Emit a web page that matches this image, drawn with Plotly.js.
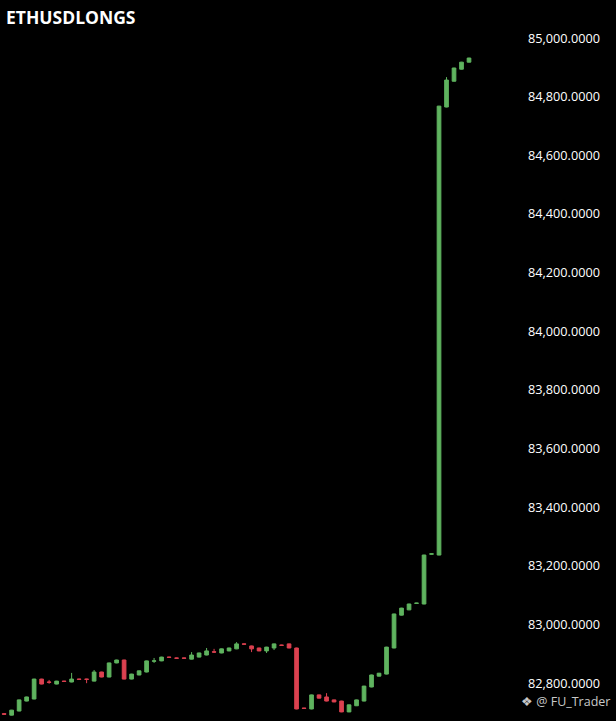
<!DOCTYPE html>
<html>
<head>
<meta charset="utf-8">
<script src="https://cdn.plot.ly/plotly-3.0.1.min.js"></script>
<style>
html,body{margin:0;padding:0;background:#000;}
#chart{width:616px;height:721px;}
</style>
</head>
<body>
<div id="chart"></div>
<script>
const barIndex = [0,1,2,3,4,5,6,7,8,9,10,11,12,13,14,15,16,17,18,19,20,21,22,23,24,25,26,27,28,29,30,31,32,33,34,35,36,37,38,39,40,41,42,43,44,45,46,47,48,49,50,51,52,53,54,55,56,57,58,59,60,61,62];
const openPrices = [82696,82691,82705,82739,82746,82814,82804,82797,82807,82804,82814,82814,82807,82838,82821,82869,82879,82814,82828,82838,82875,82876,82889,82886,82886,82882,82889,82896,82907,82903,82910,82917,82934,82927,82920,82910,82920,82930,82934,82920,82715,82712,82760,82753,82743,82739,82702,82723,82739,82787,82824,82831,82920,83032,83050,83072,83070,83240,83237,84765,84853,84894,84918];
const highPrices = [82697,82709,82744,82754,82815,82815,82811,82808,82808,82835,82815,82815,82845,82839,82870,82880,82880,82832,82843,82877,82886,82890,82890,82887,82887,82906,82904,82920,82917,82918,82921,82940,82935,82928,82921,82924,82935,82931,82935,82921,82716,82761,82761,82766,82744,82740,82727,82744,82791,82829,82835,82924,83037,83057,83071,83074,83238,83242,84769,84867,84899,84919,84933];
const lowPrices = [82693,82690,82704,82738,82745,82796,82798,82796,82805,82803,82812,82800,82806,82820,82820,82868,82813,82813,82827,82837,82869,82875,82887,82884,82884,82881,82888,82895,82903,82902,82909,82916,82932,82906,82909,82903,82913,82928,82919,82711,82713,82711,82748,82738,82735,82701,82701,82722,82738,82786,82823,82830,82919,83031,83049,83071,83069,83239,83236,84764,84852,84893,84917];
const closePrices = [82694,82708,82743,82753,82814,82797,82803,82807,82806,82814,82813,82813,82838,82821,82869,82879,82814,82831,82842,82876,82876,82889,82888,82885,82885,82896,82903,82910,82906,82917,82920,82934,82933,82917,82910,82923,82934,82929,82920,82712,82714,82760,82749,82739,82736,82702,82726,82743,82790,82828,82834,82923,83036,83056,83070,83073,83237,83241,84768,84857,84898,84918,84932];
const tickValues = [82800,83000,83200,83400,83600,83800,84000,84200,84400,84600,84800,85000];
const chartTitle = "ETHUSDLONGS";
const watermark = "❖ @ FU_Trader";

const trace = {
  type: 'candlestick',
  x: barIndex,
  open: openPrices,
  high: highPrices,
  low: lowPrices,
  close: closePrices,
  increasing: {line: {color: '#5fb35f', width: 1}, fillcolor: '#5fb35f'},
  decreasing: {line: {color: '#dc4150', width: 1}, fillcolor: '#dc4150'},
  whiskerwidth: 0,
  hoverinfo: 'none'
};

const layout = {
  width: 616, height: 721,
  paper_bgcolor: '#000', plot_bgcolor: '#000',
  margin: {l: 0, r: 96, t: 0, b: 0},
  showlegend: false,
  xaxis: {
    range: [-0.55, 68.8],
    showgrid: false, zeroline: false, showticklabels: false, ticks: '',
    rangeslider: {visible: false}, showline: false
  },
  yaxis: {
    side: 'right',
    range: [82671, 85130],
    tickvals: tickValues,
    tickformat: ',.4f',
    showgrid: false, zeroline: false, showline: false,
    ticks: '', ticklabelstandoff: 7,
    tickfont: {color: '#ffffff', size: 12.7, family: 'Open Sans, Noto Sans, sans-serif'}
  },
  annotations: [
    {text: chartTitle, xref: 'paper', yref: 'paper', x: 0, y: 1, xanchor: 'left', yanchor: 'top',
     xshift: 4, yshift: -3, showarrow: false,
     font: {color: '#ffffff', size: 17.5, family: 'Open Sans, Noto Sans, sans-serif', weight: 'bold'}},
    {text: watermark, xref: 'paper', yref: 'paper', x: 1, y: 0, xanchor: 'right', yanchor: 'bottom',
     xshift: 92, yshift: 9, showarrow: false,
     font: {color: '#c8c8c8', size: 12.5, family: 'Open Sans, Noto Sans, sans-serif'}}
  ]
};

Plotly.newPlot('chart', [trace], layout, {displayModeBar: false, staticPlot: true});
</script>
</body>
</html>
